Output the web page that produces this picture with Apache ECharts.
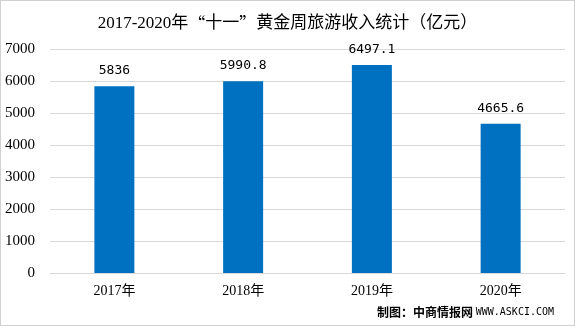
<!DOCTYPE html>
<html>
<head>
<meta charset="utf-8">
<script src="https://cdn.jsdelivr.net/npm/echarts@6/dist/echarts.min.js"></script>
<style>
  html, body { margin: 0; padding: 0; background: #fff; }
  #chart { width: 573px; height: 324px; border: 1px solid #d0d0d0; }
</style>
</head>
<body>
<div id="chart"></div>
<script>
var years = ['2017年', '2018年', '2019年', '2020年'];
var income = [5836, 5990.8, 6497.1, 4665.6];
var labels = ['5836', '5990.8', '6497.1', '4665.6'];

var font = '"Liberation Serif", "Noto Sans CJK SC", serif';
var cjk = '"Noto Sans CJK SC", sans-serif';
var chart = echarts.init(document.getElementById('chart'), null, { renderer: 'canvas' });
var option = {
  animation: false,
  title: {
    text: '{a|2017-2020年}{q|“}{a|十一}{q|”}{a|黄金周旅游收入统计（亿元）}',
    left: 'center',
    top: 9,
    textStyle: {
      fontWeight: 'normal',
      rich: {
        a: { fontFamily: font, fontSize: 17, fontWeight: 'normal', color: '#000' },
        q: { fontFamily: cjk, fontSize: 17, fontWeight: 'normal', color: '#000' }
      }
    }
  },
  graphic: [{
    type: 'text',
    right: 20,
    bottom: 7,
    style: {
      text: '{c|制图：中商情报网 }{w|WWW.ASKCI.COM}',
      rich: {
        c: { fontFamily: cjk, fontSize: 12, fontWeight: 'bold', fill: '#000' },
        w: { fontFamily: '"DejaVu Sans Mono", monospace', fontSize: 10, fill: '#000' }
      }
    }
  }],
  grid: { left: 49, right: 9, top: 48, bottom: 52 },
  xAxis: {
    type: 'category',
    data: years,
    axisLine: { lineStyle: { color: '#d9d9d9' } },
    axisTick: { show: false },
    axisLabel: { fontFamily: font, fontSize: 14, color: '#000', margin: 11 }
  },
  yAxis: {
    type: 'value',
    min: 0,
    max: 7000,
    interval: 1000,
    axisLine: { show: false },
    axisTick: { show: false },
    splitLine: { lineStyle: { color: '#d9d9d9' } },
    axisLabel: {
      fontFamily: font, fontSize: 15, color: '#000', margin: 15,
      formatter: function (v) { return String(v); }
    }
  },
  series: [{
    type: 'bar',
    data: income,
    barWidth: 40,
    itemStyle: { color: '#0070C0' },
    label: {
      show: true,
      position: 'top',
      distance: 9,
      fontFamily: '"DejaVu Sans Mono", monospace',
      fontSize: 13,
      color: '#000',
      formatter: function (p) { return labels[p.dataIndex]; }
    }
  }]
};
chart.setOption(option);
</script>
</body>
</html>
